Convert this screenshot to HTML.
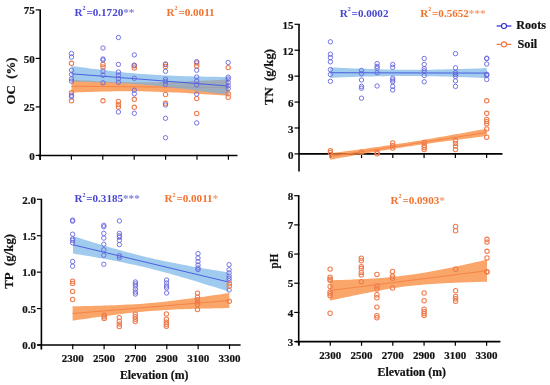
<!DOCTYPE html>
<html><head><meta charset="utf-8"><style>
html,body{margin:0;padding:0;background:#fff;width:550px;height:385px;overflow:hidden}
svg{display:block;will-change:transform}
text{font-family:"Liberation Serif",serif;font-weight:bold}
.k{stroke:#111;stroke-width:0.2}
</style></head><body>
<svg width="550" height="385" viewBox="0 0 550 385">
<rect width="550" height="385" fill="#fff"/>
<line x1="40.20" y1="9.90" x2="40.20" y2="160.00" stroke="#000" stroke-width="1.6"/>
<line x1="35.70" y1="9.90" x2="40.90" y2="9.90" stroke="#000" stroke-width="1.2"/>
<text x="34.70" y="14.10" font-size="11" text-anchor="end" fill="#111" class="k">75</text>
<line x1="35.70" y1="58.40" x2="40.90" y2="58.40" stroke="#000" stroke-width="1.2"/>
<text x="34.70" y="62.60" font-size="11" text-anchor="end" fill="#111" class="k">50</text>
<line x1="35.70" y1="106.90" x2="40.90" y2="106.90" stroke="#000" stroke-width="1.2"/>
<text x="34.70" y="111.10" font-size="11" text-anchor="end" fill="#111" class="k">25</text>
<line x1="35.70" y1="155.40" x2="40.90" y2="155.40" stroke="#000" stroke-width="1.2"/>
<text x="34.70" y="159.60" font-size="11" text-anchor="end" fill="#111" class="k">0</text>
<line x1="38.00" y1="155.50" x2="237.50" y2="155.50" stroke="#000" stroke-width="1.6"/>
<line x1="40.00" y1="154.80" x2="40.00" y2="159.70" stroke="#000" stroke-width="1.2"/>
<line x1="71.40" y1="154.80" x2="71.40" y2="159.70" stroke="#000" stroke-width="1.2"/>
<line x1="102.80" y1="154.80" x2="102.80" y2="159.70" stroke="#000" stroke-width="1.2"/>
<line x1="134.20" y1="154.80" x2="134.20" y2="159.70" stroke="#000" stroke-width="1.2"/>
<line x1="165.60" y1="154.80" x2="165.60" y2="159.70" stroke="#000" stroke-width="1.2"/>
<line x1="197.00" y1="154.80" x2="197.00" y2="159.70" stroke="#000" stroke-width="1.2"/>
<line x1="228.40" y1="154.80" x2="228.40" y2="159.70" stroke="#000" stroke-width="1.2"/>
<line x1="299.00" y1="24.30" x2="299.00" y2="171.50" stroke="#000" stroke-width="1.6"/>
<line x1="294.50" y1="24.30" x2="299.70" y2="24.30" stroke="#000" stroke-width="1.2"/>
<text x="293.50" y="28.90" font-size="11" text-anchor="end" fill="#111" class="k">15</text>
<line x1="294.50" y1="50.22" x2="299.70" y2="50.22" stroke="#000" stroke-width="1.2"/>
<text x="293.50" y="54.82" font-size="11" text-anchor="end" fill="#111" class="k">12</text>
<line x1="294.50" y1="76.14" x2="299.70" y2="76.14" stroke="#000" stroke-width="1.2"/>
<text x="293.50" y="80.74" font-size="11" text-anchor="end" fill="#111" class="k">9</text>
<line x1="294.50" y1="102.06" x2="299.70" y2="102.06" stroke="#000" stroke-width="1.2"/>
<text x="293.50" y="106.66" font-size="11" text-anchor="end" fill="#111" class="k">6</text>
<line x1="294.50" y1="127.98" x2="299.70" y2="127.98" stroke="#000" stroke-width="1.2"/>
<text x="293.50" y="132.58" font-size="11" text-anchor="end" fill="#111" class="k">3</text>
<line x1="294.50" y1="153.90" x2="299.70" y2="153.90" stroke="#000" stroke-width="1.2"/>
<text x="293.50" y="158.50" font-size="11" text-anchor="end" fill="#111" class="k">0</text>
<line x1="299.00" y1="153.90" x2="502.50" y2="153.90" stroke="#000" stroke-width="1.6"/>
<line x1="330.27" y1="153.20" x2="330.27" y2="158.10" stroke="#000" stroke-width="1.2"/>
<line x1="361.54" y1="153.20" x2="361.54" y2="158.10" stroke="#000" stroke-width="1.2"/>
<line x1="392.81" y1="153.20" x2="392.81" y2="158.10" stroke="#000" stroke-width="1.2"/>
<line x1="424.08" y1="153.20" x2="424.08" y2="158.10" stroke="#000" stroke-width="1.2"/>
<line x1="455.35" y1="153.20" x2="455.35" y2="158.10" stroke="#000" stroke-width="1.2"/>
<line x1="486.62" y1="153.20" x2="486.62" y2="158.10" stroke="#000" stroke-width="1.2"/>
<line x1="41.40" y1="199.30" x2="41.40" y2="349.40" stroke="#000" stroke-width="1.6"/>
<line x1="36.90" y1="199.30" x2="42.10" y2="199.30" stroke="#000" stroke-width="1.2"/>
<text x="35.90" y="203.50" font-size="11" text-anchor="end" fill="#111" class="k">2.0</text>
<line x1="36.90" y1="235.72" x2="42.10" y2="235.72" stroke="#000" stroke-width="1.2"/>
<text x="35.90" y="239.92" font-size="11" text-anchor="end" fill="#111" class="k">1.5</text>
<line x1="36.90" y1="272.14" x2="42.10" y2="272.14" stroke="#000" stroke-width="1.2"/>
<text x="35.90" y="276.34" font-size="11" text-anchor="end" fill="#111" class="k">1.0</text>
<line x1="36.90" y1="308.56" x2="42.10" y2="308.56" stroke="#000" stroke-width="1.2"/>
<text x="35.90" y="312.76" font-size="11" text-anchor="end" fill="#111" class="k">0.5</text>
<line x1="36.90" y1="344.98" x2="42.10" y2="344.98" stroke="#000" stroke-width="1.2"/>
<text x="35.90" y="349.18" font-size="11" text-anchor="end" fill="#111" class="k">0.0</text>
<line x1="37.40" y1="345.00" x2="240.60" y2="345.00" stroke="#000" stroke-width="1.6"/>
<line x1="41.40" y1="344.30" x2="41.40" y2="349.20" stroke="#000" stroke-width="1.2"/>
<line x1="72.75" y1="344.30" x2="72.75" y2="349.20" stroke="#000" stroke-width="1.2"/>
<line x1="104.10" y1="344.30" x2="104.10" y2="349.20" stroke="#000" stroke-width="1.2"/>
<line x1="135.45" y1="344.30" x2="135.45" y2="349.20" stroke="#000" stroke-width="1.2"/>
<line x1="166.80" y1="344.30" x2="166.80" y2="349.20" stroke="#000" stroke-width="1.2"/>
<line x1="198.15" y1="344.30" x2="198.15" y2="349.20" stroke="#000" stroke-width="1.2"/>
<line x1="229.50" y1="344.30" x2="229.50" y2="349.20" stroke="#000" stroke-width="1.2"/>
<text x="72.75" y="362.00" font-size="11" text-anchor="middle" fill="#111" class="k">2300</text>
<text x="104.10" y="362.00" font-size="11" text-anchor="middle" fill="#111" class="k">2500</text>
<text x="135.45" y="362.00" font-size="11" text-anchor="middle" fill="#111" class="k">2700</text>
<text x="166.80" y="362.00" font-size="11" text-anchor="middle" fill="#111" class="k">2900</text>
<text x="198.15" y="362.00" font-size="11" text-anchor="middle" fill="#111" class="k">3100</text>
<text x="229.50" y="362.00" font-size="11" text-anchor="middle" fill="#111" class="k">3300</text>
<line x1="298.70" y1="195.70" x2="298.70" y2="345.40" stroke="#000" stroke-width="1.6"/>
<line x1="294.20" y1="195.70" x2="299.40" y2="195.70" stroke="#000" stroke-width="1.2"/>
<text x="293.20" y="199.90" font-size="11" text-anchor="end" fill="#111" class="k">8</text>
<line x1="294.20" y1="224.88" x2="299.40" y2="224.88" stroke="#000" stroke-width="1.2"/>
<text x="293.20" y="229.08" font-size="11" text-anchor="end" fill="#111" class="k">7</text>
<line x1="294.20" y1="254.06" x2="299.40" y2="254.06" stroke="#000" stroke-width="1.2"/>
<text x="293.20" y="258.26" font-size="11" text-anchor="end" fill="#111" class="k">6</text>
<line x1="294.20" y1="283.24" x2="299.40" y2="283.24" stroke="#000" stroke-width="1.2"/>
<text x="293.20" y="287.44" font-size="11" text-anchor="end" fill="#111" class="k">5</text>
<line x1="294.20" y1="312.42" x2="299.40" y2="312.42" stroke="#000" stroke-width="1.2"/>
<text x="293.20" y="316.62" font-size="11" text-anchor="end" fill="#111" class="k">4</text>
<line x1="294.20" y1="341.60" x2="299.40" y2="341.60" stroke="#000" stroke-width="1.2"/>
<text x="293.20" y="345.80" font-size="11" text-anchor="end" fill="#111" class="k">3</text>
<line x1="295.50" y1="341.60" x2="500.40" y2="341.60" stroke="#000" stroke-width="1.6"/>
<line x1="299.00" y1="340.90" x2="299.00" y2="345.80" stroke="#000" stroke-width="1.2"/>
<line x1="330.27" y1="340.90" x2="330.27" y2="345.80" stroke="#000" stroke-width="1.2"/>
<line x1="361.54" y1="340.90" x2="361.54" y2="345.80" stroke="#000" stroke-width="1.2"/>
<line x1="392.81" y1="340.90" x2="392.81" y2="345.80" stroke="#000" stroke-width="1.2"/>
<line x1="424.08" y1="340.90" x2="424.08" y2="345.80" stroke="#000" stroke-width="1.2"/>
<line x1="455.35" y1="340.90" x2="455.35" y2="345.80" stroke="#000" stroke-width="1.2"/>
<line x1="486.62" y1="340.90" x2="486.62" y2="345.80" stroke="#000" stroke-width="1.2"/>
<text x="330.27" y="358.60" font-size="11" text-anchor="middle" fill="#111" class="k">2300</text>
<text x="361.54" y="358.60" font-size="11" text-anchor="middle" fill="#111" class="k">2500</text>
<text x="392.81" y="358.60" font-size="11" text-anchor="middle" fill="#111" class="k">2700</text>
<text x="424.08" y="358.60" font-size="11" text-anchor="middle" fill="#111" class="k">2900</text>
<text x="455.35" y="358.60" font-size="11" text-anchor="middle" fill="#111" class="k">3100</text>
<text x="486.62" y="358.60" font-size="11" text-anchor="middle" fill="#111" class="k">3300</text>
<path d="M71.50,79.70 L75.42,79.94 L79.35,80.17 L83.28,80.40 L87.20,80.62 L91.12,80.83 L95.05,81.02 L98.97,81.21 L102.90,81.39 L106.83,81.55 L110.75,81.70 L114.67,81.84 L118.60,81.96 L122.53,82.06 L126.45,82.14 L130.38,82.21 L134.30,82.26 L138.22,82.29 L142.15,82.30 L146.07,82.30 L150.00,82.27 L153.93,82.23 L157.85,82.17 L161.78,82.10 L165.70,82.01 L169.62,81.91 L173.55,81.80 L177.47,81.68 L181.40,81.55 L185.32,81.40 L189.25,81.25 L193.18,81.09 L197.10,80.92 L201.03,80.75 L204.95,80.57 L208.88,80.39 L212.80,80.20 L216.72,80.00 L220.65,79.81 L224.57,79.60 L228.50,79.40 L228.50,95.80 L224.57,95.53 L220.65,95.25 L216.72,94.99 L212.80,94.72 L208.88,94.46 L204.95,94.21 L201.03,93.96 L197.10,93.72 L193.18,93.48 L189.25,93.25 L185.32,93.03 L181.40,92.81 L177.47,92.61 L173.55,92.42 L169.62,92.24 L165.70,92.07 L161.78,91.91 L157.85,91.77 L153.93,91.64 L150.00,91.53 L146.07,91.43 L142.15,91.36 L138.22,91.30 L134.30,91.26 L130.38,91.24 L126.45,91.24 L122.53,91.25 L118.60,91.28 L114.67,91.33 L110.75,91.40 L106.83,91.48 L102.90,91.57 L98.97,91.68 L95.05,91.80 L91.12,91.92 L87.20,92.06 L83.28,92.21 L79.35,92.37 L75.42,92.53 L71.50,92.70 Z" fill="#f88737" fill-opacity="0.75" stroke="none"/>
<line x1="71.50" y1="86.20" x2="228.50" y2="87.60" stroke="#f5844a" stroke-width="1.0"/>
<path d="M71.50,66.00 L75.42,66.54 L79.35,67.07 L83.28,67.60 L87.20,68.12 L91.12,68.63 L95.05,69.12 L98.97,69.61 L102.90,70.09 L106.83,70.55 L110.75,71.00 L114.67,71.44 L118.60,71.85 L122.53,72.26 L126.45,72.64 L130.38,73.01 L134.30,73.35 L138.22,73.68 L142.15,73.99 L146.07,74.28 L150.00,74.54 L153.93,74.79 L157.85,75.02 L161.78,75.23 L165.70,75.43 L169.62,75.61 L173.55,75.77 L177.47,75.92 L181.40,76.06 L185.32,76.18 L189.25,76.30 L193.18,76.40 L197.10,76.49 L201.03,76.58 L204.95,76.66 L208.88,76.73 L212.80,76.79 L216.72,76.85 L220.65,76.91 L224.57,76.96 L228.50,77.00 L228.50,95.00 L224.57,94.43 L220.65,93.87 L216.72,93.32 L212.80,92.77 L208.88,92.22 L204.95,91.68 L201.03,91.15 L197.10,90.63 L193.18,90.11 L189.25,89.60 L185.32,89.11 L181.40,88.62 L177.47,88.15 L173.55,87.69 L169.62,87.24 L165.70,86.81 L161.78,86.40 L157.85,86.00 L153.93,85.62 L150.00,85.26 L146.07,84.91 L142.15,84.59 L138.22,84.29 L134.30,84.01 L130.38,83.74 L126.45,83.50 L122.53,83.27 L118.60,83.07 L114.67,82.87 L110.75,82.70 L106.83,82.54 L102.90,82.39 L98.97,82.26 L95.05,82.14 L91.12,82.02 L87.20,81.92 L83.28,81.83 L79.35,81.75 L75.42,81.67 L71.50,81.60 Z" fill="#6fb0e5" fill-opacity="0.66" stroke="none"/>
<line x1="71.50" y1="73.80" x2="228.50" y2="86.00" stroke="#4a5fe0" stroke-width="1.0"/>
<path d="M330.20,153.30 L334.11,152.79 L338.02,152.29 L341.94,151.78 L345.85,151.26 L349.76,150.74 L353.68,150.22 L357.59,149.70 L361.50,149.17 L365.41,148.63 L369.32,148.09 L373.24,147.54 L377.15,146.99 L381.06,146.43 L384.97,145.86 L388.89,145.28 L392.80,144.70 L396.71,144.11 L400.62,143.51 L404.54,142.90 L408.45,142.28 L412.36,141.66 L416.27,141.03 L420.19,140.39 L424.10,139.74 L428.01,139.08 L431.92,138.42 L435.84,137.75 L439.75,137.08 L443.66,136.40 L447.57,135.72 L451.49,135.03 L455.40,134.34 L459.31,133.64 L463.23,132.94 L467.14,132.24 L471.05,131.54 L474.96,130.83 L478.88,130.12 L482.79,129.41 L486.70,128.70 L486.70,135.90 L482.79,136.40 L478.88,136.90 L474.96,137.40 L471.05,137.90 L467.14,138.41 L463.23,138.92 L459.31,139.43 L455.40,139.94 L451.49,140.46 L447.57,140.98 L443.66,141.51 L439.75,142.04 L435.84,142.58 L431.92,143.12 L428.01,143.67 L424.10,144.22 L420.19,144.78 L416.27,145.35 L412.36,145.93 L408.45,146.52 L404.54,147.11 L400.62,147.71 L396.71,148.32 L392.80,148.94 L388.89,149.57 L384.97,150.20 L381.06,150.84 L377.15,151.49 L373.24,152.15 L369.32,152.81 L365.41,153.48 L361.50,154.15 L357.59,154.83 L353.68,155.52 L349.76,156.21 L345.85,156.90 L341.94,157.59 L338.02,158.29 L334.11,159.00 L330.20,159.70 Z" fill="#f88737" fill-opacity="0.75" stroke="none"/>
<line x1="330.20" y1="156.50" x2="486.70" y2="132.50" stroke="#f5844a" stroke-width="1.0"/>
<path d="M330.20,67.40 L334.11,67.57 L338.02,67.74 L341.94,67.91 L345.85,68.07 L349.76,68.23 L353.68,68.39 L357.59,68.54 L361.50,68.68 L365.41,68.82 L369.32,68.95 L373.24,69.08 L377.15,69.19 L381.06,69.30 L384.97,69.40 L388.89,69.49 L392.80,69.56 L396.71,69.63 L400.62,69.68 L404.54,69.72 L408.45,69.75 L412.36,69.76 L416.27,69.76 L420.19,69.75 L424.10,69.73 L428.01,69.69 L431.92,69.64 L435.84,69.58 L439.75,69.51 L443.66,69.43 L447.57,69.34 L451.49,69.24 L455.40,69.14 L459.31,69.03 L463.23,68.91 L467.14,68.79 L471.05,68.66 L474.96,68.52 L478.88,68.39 L482.79,68.24 L486.70,68.10 L486.70,78.10 L482.79,77.93 L478.88,77.76 L474.96,77.60 L471.05,77.44 L467.14,77.29 L463.23,77.14 L459.31,77.00 L455.40,76.86 L451.49,76.73 L447.57,76.61 L443.66,76.50 L439.75,76.39 L435.84,76.30 L431.92,76.21 L428.01,76.14 L424.10,76.07 L420.19,76.02 L416.27,75.99 L412.36,75.96 L408.45,75.95 L404.54,75.95 L400.62,75.97 L396.71,76.00 L392.80,76.04 L388.89,76.09 L384.97,76.15 L381.06,76.23 L377.15,76.31 L373.24,76.40 L369.32,76.50 L365.41,76.60 L361.50,76.72 L357.59,76.84 L353.68,76.96 L349.76,77.09 L345.85,77.23 L341.94,77.36 L338.02,77.51 L334.11,77.65 L330.20,77.80 Z" fill="#6fb0e5" fill-opacity="0.66" stroke="none"/>
<line x1="330.20" y1="72.70" x2="486.70" y2="73.10" stroke="#4a5fe0" stroke-width="1.0"/>
<path d="M72.60,306.30 L76.52,306.23 L80.44,306.15 L84.35,306.07 L88.27,305.99 L92.19,305.89 L96.10,305.80 L100.02,305.69 L103.94,305.57 L107.86,305.44 L111.78,305.31 L115.69,305.16 L119.61,304.99 L123.53,304.81 L127.44,304.62 L131.36,304.40 L135.28,304.16 L139.20,303.91 L143.12,303.63 L147.03,303.32 L150.95,303.00 L154.87,302.65 L158.79,302.27 L162.70,301.88 L166.62,301.46 L170.54,301.02 L174.45,300.57 L178.37,300.09 L182.29,299.60 L186.21,299.10 L190.12,298.59 L194.04,298.06 L197.96,297.53 L201.88,296.98 L205.79,296.43 L209.71,295.87 L213.63,295.31 L217.55,294.74 L221.47,294.16 L225.38,293.58 L229.30,293.00 L229.30,308.00 L225.38,308.07 L221.47,308.14 L217.55,308.21 L213.63,308.29 L209.71,308.38 L205.79,308.47 L201.88,308.57 L197.96,308.67 L194.04,308.79 L190.12,308.91 L186.21,309.05 L182.29,309.20 L178.37,309.36 L174.45,309.53 L170.54,309.73 L166.62,309.94 L162.70,310.17 L158.79,310.43 L154.87,310.70 L150.95,311.00 L147.03,311.33 L143.12,311.67 L139.20,312.04 L135.28,312.44 L131.36,312.85 L127.44,313.28 L123.53,313.74 L119.61,314.21 L115.69,314.69 L111.78,315.19 L107.86,315.71 L103.94,316.23 L100.02,316.76 L96.10,317.30 L92.19,317.86 L88.27,318.41 L84.35,318.98 L80.44,319.55 L76.52,320.12 L72.60,320.70 Z" fill="#f88737" fill-opacity="0.75" stroke="none"/>
<line x1="72.60" y1="313.50" x2="229.30" y2="300.50" stroke="#f5844a" stroke-width="1.0"/>
<path d="M73.00,236.10 L76.89,237.32 L80.78,238.53 L84.66,239.74 L88.55,240.94 L92.44,242.13 L96.33,243.31 L100.21,244.48 L104.10,245.63 L107.99,246.78 L111.88,247.91 L115.76,249.02 L119.65,250.12 L123.54,251.19 L127.42,252.25 L131.31,253.28 L135.20,254.29 L139.09,255.27 L142.97,256.23 L146.86,257.17 L150.75,258.08 L154.64,258.96 L158.53,259.82 L162.41,260.65 L166.30,261.47 L170.19,262.26 L174.07,263.03 L177.96,263.78 L181.85,264.52 L185.74,265.24 L189.62,265.94 L193.51,266.64 L197.40,267.32 L201.29,268.00 L205.18,268.66 L209.06,269.32 L212.95,269.97 L216.84,270.61 L220.72,271.24 L224.61,271.87 L228.50,272.50 L228.50,291.50 L224.61,290.27 L220.72,289.04 L216.84,287.81 L212.95,286.59 L209.06,285.38 L205.18,284.18 L201.29,282.98 L197.40,281.80 L193.51,280.62 L189.62,279.46 L185.74,278.30 L181.85,277.16 L177.96,276.04 L174.07,274.93 L170.19,273.84 L166.30,272.77 L162.41,271.73 L158.53,270.70 L154.64,269.70 L150.75,268.72 L146.86,267.77 L142.97,266.85 L139.09,265.95 L135.20,265.07 L131.31,264.22 L127.42,263.39 L123.54,262.59 L119.65,261.80 L115.76,261.04 L111.88,260.29 L107.99,259.56 L104.10,258.85 L100.21,258.14 L96.33,257.45 L92.44,256.77 L88.55,256.10 L84.66,255.44 L80.78,254.79 L76.89,254.14 L73.00,253.50 Z" fill="#6fb0e5" fill-opacity="0.66" stroke="none"/>
<line x1="73.00" y1="244.80" x2="228.50" y2="282.00" stroke="#4a5fe0" stroke-width="1.0"/>
<path d="M330.10,280.30 L334.02,280.18 L337.95,280.06 L341.87,279.93 L345.79,279.79 L349.71,279.64 L353.63,279.48 L357.56,279.31 L361.48,279.13 L365.40,278.93 L369.33,278.71 L373.25,278.48 L377.17,278.22 L381.09,277.94 L385.01,277.63 L388.94,277.29 L392.86,276.92 L396.78,276.51 L400.71,276.07 L404.63,275.59 L408.55,275.08 L412.47,274.53 L416.39,273.94 L420.32,273.32 L424.24,272.67 L428.16,271.98 L432.09,271.27 L436.01,270.54 L439.93,269.79 L443.85,269.01 L447.77,268.22 L451.70,267.41 L455.62,266.59 L459.54,265.76 L463.47,264.92 L467.39,264.07 L471.31,263.21 L475.23,262.34 L479.15,261.46 L483.08,260.58 L487.00,259.70 L487.00,281.70 L483.08,281.81 L479.15,281.92 L475.23,282.03 L471.31,282.15 L467.39,282.28 L463.47,282.42 L459.54,282.57 L455.62,282.73 L451.70,282.90 L447.77,283.08 L443.85,283.28 L439.93,283.49 L436.01,283.73 L432.09,283.99 L428.16,284.27 L424.24,284.57 L420.32,284.91 L416.39,285.28 L412.47,285.68 L408.55,286.12 L404.63,286.60 L400.71,287.11 L396.78,287.66 L392.86,288.24 L388.94,288.86 L385.01,289.51 L381.09,290.19 L377.17,290.90 L373.25,291.63 L369.33,292.39 L365.40,293.16 L361.48,293.95 L357.56,294.76 L353.63,295.58 L349.71,296.41 L345.79,297.25 L341.87,298.10 L337.95,298.96 L334.02,299.83 L330.10,300.70 Z" fill="#f88737" fill-opacity="0.75" stroke="none"/>
<line x1="330.10" y1="290.50" x2="487.00" y2="270.70" stroke="#f5844a" stroke-width="1.0"/>
<circle cx="71.50" cy="63.30" r="2.2" fill="none" stroke="#ee7c4e" stroke-width="1.05"/>
<circle cx="71.50" cy="100.80" r="2.2" fill="none" stroke="#ee7c4e" stroke-width="1.05"/>
<circle cx="71.50" cy="92.80" r="2.2" fill="none" stroke="#ee7c4e" stroke-width="1.05"/>
<circle cx="103.00" cy="64.40" r="2.2" fill="none" stroke="#ee7c4e" stroke-width="1.05"/>
<circle cx="103.00" cy="67.00" r="2.2" fill="none" stroke="#ee7c4e" stroke-width="1.05"/>
<circle cx="103.00" cy="100.80" r="2.2" fill="none" stroke="#ee7c4e" stroke-width="1.05"/>
<circle cx="118.40" cy="101.50" r="2.2" fill="none" stroke="#ee7c4e" stroke-width="1.05"/>
<circle cx="118.40" cy="104.50" r="2.2" fill="none" stroke="#ee7c4e" stroke-width="1.05"/>
<circle cx="118.40" cy="107.00" r="2.2" fill="none" stroke="#ee7c4e" stroke-width="1.05"/>
<circle cx="134.30" cy="65.80" r="2.2" fill="none" stroke="#ee7c4e" stroke-width="1.05"/>
<circle cx="134.30" cy="68.00" r="2.2" fill="none" stroke="#ee7c4e" stroke-width="1.05"/>
<circle cx="134.30" cy="99.30" r="2.2" fill="none" stroke="#ee7c4e" stroke-width="1.05"/>
<circle cx="134.30" cy="107.30" r="2.2" fill="none" stroke="#ee7c4e" stroke-width="1.05"/>
<circle cx="165.50" cy="64.50" r="2.2" fill="none" stroke="#ee7c4e" stroke-width="1.05"/>
<circle cx="165.50" cy="66.50" r="2.2" fill="none" stroke="#ee7c4e" stroke-width="1.05"/>
<circle cx="165.50" cy="94.50" r="2.2" fill="none" stroke="#ee7c4e" stroke-width="1.05"/>
<circle cx="165.50" cy="103.30" r="2.2" fill="none" stroke="#ee7c4e" stroke-width="1.05"/>
<circle cx="196.70" cy="63.00" r="2.2" fill="none" stroke="#ee7c4e" stroke-width="1.05"/>
<circle cx="196.70" cy="66.10" r="2.2" fill="none" stroke="#ee7c4e" stroke-width="1.05"/>
<circle cx="196.70" cy="98.60" r="2.2" fill="none" stroke="#ee7c4e" stroke-width="1.05"/>
<circle cx="196.70" cy="113.50" r="2.2" fill="none" stroke="#ee7c4e" stroke-width="1.05"/>
<circle cx="228.20" cy="67.60" r="2.2" fill="none" stroke="#ee7c4e" stroke-width="1.05"/>
<circle cx="228.20" cy="93.80" r="2.2" fill="none" stroke="#ee7c4e" stroke-width="1.05"/>
<circle cx="228.20" cy="97.20" r="2.2" fill="none" stroke="#ee7c4e" stroke-width="1.05"/>
<circle cx="71.50" cy="53.50" r="2.2" fill="none" stroke="#6666dc" stroke-width="0.9"/>
<circle cx="71.50" cy="57.10" r="2.2" fill="none" stroke="#6666dc" stroke-width="0.9"/>
<circle cx="71.50" cy="70.20" r="2.2" fill="none" stroke="#6666dc" stroke-width="0.9"/>
<circle cx="71.50" cy="74.50" r="2.2" fill="none" stroke="#6666dc" stroke-width="0.9"/>
<circle cx="71.50" cy="78.90" r="2.2" fill="none" stroke="#6666dc" stroke-width="0.9"/>
<circle cx="71.50" cy="81.20" r="2.2" fill="none" stroke="#6666dc" stroke-width="0.9"/>
<circle cx="71.50" cy="95.30" r="2.2" fill="none" stroke="#6666dc" stroke-width="0.9"/>
<circle cx="71.50" cy="96.70" r="2.2" fill="none" stroke="#6666dc" stroke-width="0.9"/>
<circle cx="103.00" cy="48.00" r="2.2" fill="none" stroke="#6666dc" stroke-width="0.9"/>
<circle cx="103.00" cy="59.00" r="2.2" fill="none" stroke="#6666dc" stroke-width="0.9"/>
<circle cx="103.00" cy="60.00" r="2.2" fill="none" stroke="#6666dc" stroke-width="0.9"/>
<circle cx="103.00" cy="71.00" r="2.2" fill="none" stroke="#6666dc" stroke-width="0.9"/>
<circle cx="103.00" cy="75.30" r="2.2" fill="none" stroke="#6666dc" stroke-width="0.9"/>
<circle cx="103.00" cy="82.80" r="2.2" fill="none" stroke="#6666dc" stroke-width="0.9"/>
<circle cx="118.40" cy="37.50" r="2.2" fill="none" stroke="#6666dc" stroke-width="0.9"/>
<circle cx="118.40" cy="64.40" r="2.2" fill="none" stroke="#6666dc" stroke-width="0.9"/>
<circle cx="118.40" cy="72.00" r="2.2" fill="none" stroke="#6666dc" stroke-width="0.9"/>
<circle cx="118.40" cy="75.30" r="2.2" fill="none" stroke="#6666dc" stroke-width="0.9"/>
<circle cx="118.40" cy="78.80" r="2.2" fill="none" stroke="#6666dc" stroke-width="0.9"/>
<circle cx="118.40" cy="82.20" r="2.2" fill="none" stroke="#6666dc" stroke-width="0.9"/>
<circle cx="118.40" cy="112.00" r="2.2" fill="none" stroke="#6666dc" stroke-width="0.9"/>
<circle cx="134.30" cy="54.90" r="2.2" fill="none" stroke="#6666dc" stroke-width="0.9"/>
<circle cx="134.30" cy="65.20" r="2.2" fill="none" stroke="#6666dc" stroke-width="0.9"/>
<circle cx="134.30" cy="78.30" r="2.2" fill="none" stroke="#6666dc" stroke-width="0.9"/>
<circle cx="134.30" cy="90.20" r="2.2" fill="none" stroke="#6666dc" stroke-width="0.9"/>
<circle cx="134.30" cy="93.80" r="2.2" fill="none" stroke="#6666dc" stroke-width="0.9"/>
<circle cx="134.30" cy="113.30" r="2.2" fill="none" stroke="#6666dc" stroke-width="0.9"/>
<circle cx="165.50" cy="64.00" r="2.2" fill="none" stroke="#6666dc" stroke-width="0.9"/>
<circle cx="165.50" cy="71.30" r="2.2" fill="none" stroke="#6666dc" stroke-width="0.9"/>
<circle cx="165.50" cy="79.20" r="2.2" fill="none" stroke="#6666dc" stroke-width="0.9"/>
<circle cx="165.50" cy="81.50" r="2.2" fill="none" stroke="#6666dc" stroke-width="0.9"/>
<circle cx="165.50" cy="84.40" r="2.2" fill="none" stroke="#6666dc" stroke-width="0.9"/>
<circle cx="165.50" cy="105.00" r="2.2" fill="none" stroke="#6666dc" stroke-width="0.9"/>
<circle cx="165.50" cy="118.30" r="2.2" fill="none" stroke="#6666dc" stroke-width="0.9"/>
<circle cx="165.50" cy="137.70" r="2.2" fill="none" stroke="#6666dc" stroke-width="0.9"/>
<circle cx="196.70" cy="61.70" r="2.2" fill="none" stroke="#6666dc" stroke-width="0.9"/>
<circle cx="196.70" cy="70.20" r="2.2" fill="none" stroke="#6666dc" stroke-width="0.9"/>
<circle cx="196.70" cy="77.00" r="2.2" fill="none" stroke="#6666dc" stroke-width="0.9"/>
<circle cx="196.70" cy="81.00" r="2.2" fill="none" stroke="#6666dc" stroke-width="0.9"/>
<circle cx="196.70" cy="85.00" r="2.2" fill="none" stroke="#6666dc" stroke-width="0.9"/>
<circle cx="196.70" cy="94.10" r="2.2" fill="none" stroke="#6666dc" stroke-width="0.9"/>
<circle cx="196.70" cy="122.90" r="2.2" fill="none" stroke="#6666dc" stroke-width="0.9"/>
<circle cx="228.20" cy="62.50" r="2.2" fill="none" stroke="#6666dc" stroke-width="0.9"/>
<circle cx="228.20" cy="77.20" r="2.2" fill="none" stroke="#6666dc" stroke-width="0.9"/>
<circle cx="228.20" cy="79.00" r="2.2" fill="none" stroke="#6666dc" stroke-width="0.9"/>
<circle cx="228.20" cy="82.50" r="2.2" fill="none" stroke="#6666dc" stroke-width="0.9"/>
<circle cx="228.20" cy="85.80" r="2.2" fill="none" stroke="#6666dc" stroke-width="0.9"/>
<circle cx="228.20" cy="88.70" r="2.2" fill="none" stroke="#6666dc" stroke-width="0.9"/>
<circle cx="330.40" cy="41.80" r="2.2" fill="none" stroke="#6666dc" stroke-width="0.9"/>
<circle cx="330.40" cy="54.20" r="2.2" fill="none" stroke="#6666dc" stroke-width="0.9"/>
<circle cx="330.40" cy="57.60" r="2.2" fill="none" stroke="#6666dc" stroke-width="0.9"/>
<circle cx="330.40" cy="61.80" r="2.2" fill="none" stroke="#6666dc" stroke-width="0.9"/>
<circle cx="330.40" cy="69.60" r="2.2" fill="none" stroke="#6666dc" stroke-width="0.9"/>
<circle cx="330.40" cy="74.50" r="2.2" fill="none" stroke="#6666dc" stroke-width="0.9"/>
<circle cx="330.40" cy="81.30" r="2.2" fill="none" stroke="#6666dc" stroke-width="0.9"/>
<circle cx="361.50" cy="70.40" r="2.2" fill="none" stroke="#6666dc" stroke-width="0.9"/>
<circle cx="361.50" cy="73.60" r="2.2" fill="none" stroke="#6666dc" stroke-width="0.9"/>
<circle cx="361.50" cy="80.00" r="2.2" fill="none" stroke="#6666dc" stroke-width="0.9"/>
<circle cx="361.50" cy="86.40" r="2.2" fill="none" stroke="#6666dc" stroke-width="0.9"/>
<circle cx="361.50" cy="88.20" r="2.2" fill="none" stroke="#6666dc" stroke-width="0.9"/>
<circle cx="361.50" cy="98.20" r="2.2" fill="none" stroke="#6666dc" stroke-width="0.9"/>
<circle cx="377.10" cy="63.60" r="2.2" fill="none" stroke="#6666dc" stroke-width="0.9"/>
<circle cx="377.10" cy="66.40" r="2.2" fill="none" stroke="#6666dc" stroke-width="0.9"/>
<circle cx="377.10" cy="68.20" r="2.2" fill="none" stroke="#6666dc" stroke-width="0.9"/>
<circle cx="377.10" cy="72.70" r="2.2" fill="none" stroke="#6666dc" stroke-width="0.9"/>
<circle cx="377.10" cy="86.00" r="2.2" fill="none" stroke="#6666dc" stroke-width="0.9"/>
<circle cx="392.70" cy="64.50" r="2.2" fill="none" stroke="#6666dc" stroke-width="0.9"/>
<circle cx="392.70" cy="67.30" r="2.2" fill="none" stroke="#6666dc" stroke-width="0.9"/>
<circle cx="392.70" cy="78.20" r="2.2" fill="none" stroke="#6666dc" stroke-width="0.9"/>
<circle cx="392.70" cy="80.00" r="2.2" fill="none" stroke="#6666dc" stroke-width="0.9"/>
<circle cx="392.70" cy="81.80" r="2.2" fill="none" stroke="#6666dc" stroke-width="0.9"/>
<circle cx="392.70" cy="86.40" r="2.2" fill="none" stroke="#6666dc" stroke-width="0.9"/>
<circle cx="392.70" cy="90.00" r="2.2" fill="none" stroke="#6666dc" stroke-width="0.9"/>
<circle cx="424.20" cy="58.50" r="2.2" fill="none" stroke="#6666dc" stroke-width="0.9"/>
<circle cx="424.20" cy="64.50" r="2.2" fill="none" stroke="#6666dc" stroke-width="0.9"/>
<circle cx="424.20" cy="68.70" r="2.2" fill="none" stroke="#6666dc" stroke-width="0.9"/>
<circle cx="424.20" cy="70.90" r="2.2" fill="none" stroke="#6666dc" stroke-width="0.9"/>
<circle cx="424.20" cy="75.50" r="2.2" fill="none" stroke="#6666dc" stroke-width="0.9"/>
<circle cx="424.20" cy="81.80" r="2.2" fill="none" stroke="#6666dc" stroke-width="0.9"/>
<circle cx="455.50" cy="53.60" r="2.2" fill="none" stroke="#6666dc" stroke-width="0.9"/>
<circle cx="455.50" cy="67.80" r="2.2" fill="none" stroke="#6666dc" stroke-width="0.9"/>
<circle cx="455.50" cy="72.70" r="2.2" fill="none" stroke="#6666dc" stroke-width="0.9"/>
<circle cx="455.50" cy="74.50" r="2.2" fill="none" stroke="#6666dc" stroke-width="0.9"/>
<circle cx="455.50" cy="76.40" r="2.2" fill="none" stroke="#6666dc" stroke-width="0.9"/>
<circle cx="455.50" cy="80.90" r="2.2" fill="none" stroke="#6666dc" stroke-width="0.9"/>
<circle cx="455.50" cy="86.40" r="2.2" fill="none" stroke="#6666dc" stroke-width="0.9"/>
<circle cx="486.70" cy="58.20" r="2.2" fill="none" stroke="#6666dc" stroke-width="0.9"/>
<circle cx="486.70" cy="58.60" r="2.2" fill="none" stroke="#6666dc" stroke-width="0.9"/>
<circle cx="486.70" cy="64.00" r="2.2" fill="none" stroke="#6666dc" stroke-width="0.9"/>
<circle cx="486.70" cy="74.20" r="2.2" fill="none" stroke="#6666dc" stroke-width="0.9"/>
<circle cx="486.70" cy="74.80" r="2.2" fill="none" stroke="#6666dc" stroke-width="0.9"/>
<circle cx="486.70" cy="75.50" r="2.2" fill="none" stroke="#6666dc" stroke-width="0.9"/>
<circle cx="486.70" cy="79.50" r="2.2" fill="none" stroke="#6666dc" stroke-width="0.9"/>
<circle cx="330.40" cy="150.60" r="2.2" fill="none" stroke="#ee7c4e" stroke-width="1.05"/>
<circle cx="330.40" cy="152.40" r="2.2" fill="none" stroke="#ee7c4e" stroke-width="1.05"/>
<circle cx="361.50" cy="152.20" r="2.2" fill="none" stroke="#ee7c4e" stroke-width="1.05"/>
<circle cx="377.10" cy="152.30" r="2.2" fill="none" stroke="#ee7c4e" stroke-width="1.05"/>
<circle cx="377.10" cy="153.70" r="2.2" fill="none" stroke="#ee7c4e" stroke-width="1.05"/>
<circle cx="392.70" cy="143.00" r="2.2" fill="none" stroke="#ee7c4e" stroke-width="1.05"/>
<circle cx="392.70" cy="145.60" r="2.2" fill="none" stroke="#ee7c4e" stroke-width="1.05"/>
<circle cx="392.70" cy="148.00" r="2.2" fill="none" stroke="#ee7c4e" stroke-width="1.05"/>
<circle cx="424.20" cy="142.40" r="2.2" fill="none" stroke="#ee7c4e" stroke-width="1.05"/>
<circle cx="424.20" cy="145.50" r="2.2" fill="none" stroke="#ee7c4e" stroke-width="1.05"/>
<circle cx="424.20" cy="147.60" r="2.2" fill="none" stroke="#ee7c4e" stroke-width="1.05"/>
<circle cx="424.20" cy="149.60" r="2.2" fill="none" stroke="#ee7c4e" stroke-width="1.05"/>
<circle cx="455.50" cy="140.70" r="2.2" fill="none" stroke="#ee7c4e" stroke-width="1.05"/>
<circle cx="455.50" cy="143.40" r="2.2" fill="none" stroke="#ee7c4e" stroke-width="1.05"/>
<circle cx="455.50" cy="146.10" r="2.2" fill="none" stroke="#ee7c4e" stroke-width="1.05"/>
<circle cx="455.50" cy="149.60" r="2.2" fill="none" stroke="#ee7c4e" stroke-width="1.05"/>
<circle cx="486.70" cy="100.80" r="2.2" fill="none" stroke="#ee7c4e" stroke-width="1.05"/>
<circle cx="486.70" cy="113.30" r="2.2" fill="none" stroke="#ee7c4e" stroke-width="1.05"/>
<circle cx="486.70" cy="119.50" r="2.2" fill="none" stroke="#ee7c4e" stroke-width="1.05"/>
<circle cx="486.70" cy="121.60" r="2.2" fill="none" stroke="#ee7c4e" stroke-width="1.05"/>
<circle cx="486.70" cy="123.70" r="2.2" fill="none" stroke="#ee7c4e" stroke-width="1.05"/>
<circle cx="486.70" cy="128.90" r="2.2" fill="none" stroke="#ee7c4e" stroke-width="1.05"/>
<circle cx="486.70" cy="137.20" r="2.2" fill="none" stroke="#ee7c4e" stroke-width="1.05"/>
<circle cx="72.60" cy="220.10" r="2.2" fill="none" stroke="#6666dc" stroke-width="0.9"/>
<circle cx="72.60" cy="221.20" r="2.2" fill="none" stroke="#6666dc" stroke-width="0.9"/>
<circle cx="72.60" cy="234.20" r="2.2" fill="none" stroke="#6666dc" stroke-width="0.9"/>
<circle cx="72.60" cy="238.90" r="2.2" fill="none" stroke="#6666dc" stroke-width="0.9"/>
<circle cx="72.60" cy="240.40" r="2.2" fill="none" stroke="#6666dc" stroke-width="0.9"/>
<circle cx="72.60" cy="242.80" r="2.2" fill="none" stroke="#6666dc" stroke-width="0.9"/>
<circle cx="72.60" cy="261.50" r="2.2" fill="none" stroke="#6666dc" stroke-width="0.9"/>
<circle cx="72.60" cy="266.20" r="2.2" fill="none" stroke="#6666dc" stroke-width="0.9"/>
<circle cx="103.80" cy="225.30" r="2.2" fill="none" stroke="#6666dc" stroke-width="0.9"/>
<circle cx="103.80" cy="226.80" r="2.2" fill="none" stroke="#6666dc" stroke-width="0.9"/>
<circle cx="103.80" cy="233.40" r="2.2" fill="none" stroke="#6666dc" stroke-width="0.9"/>
<circle cx="103.80" cy="238.10" r="2.2" fill="none" stroke="#6666dc" stroke-width="0.9"/>
<circle cx="103.80" cy="244.30" r="2.2" fill="none" stroke="#6666dc" stroke-width="0.9"/>
<circle cx="103.80" cy="249.80" r="2.2" fill="none" stroke="#6666dc" stroke-width="0.9"/>
<circle cx="103.80" cy="255.20" r="2.2" fill="none" stroke="#6666dc" stroke-width="0.9"/>
<circle cx="103.80" cy="264.30" r="2.2" fill="none" stroke="#6666dc" stroke-width="0.9"/>
<circle cx="119.40" cy="220.90" r="2.2" fill="none" stroke="#6666dc" stroke-width="0.9"/>
<circle cx="119.40" cy="233.40" r="2.2" fill="none" stroke="#6666dc" stroke-width="0.9"/>
<circle cx="119.40" cy="235.70" r="2.2" fill="none" stroke="#6666dc" stroke-width="0.9"/>
<circle cx="119.40" cy="237.30" r="2.2" fill="none" stroke="#6666dc" stroke-width="0.9"/>
<circle cx="119.40" cy="240.40" r="2.2" fill="none" stroke="#6666dc" stroke-width="0.9"/>
<circle cx="119.40" cy="244.60" r="2.2" fill="none" stroke="#6666dc" stroke-width="0.9"/>
<circle cx="119.40" cy="255.70" r="2.2" fill="none" stroke="#6666dc" stroke-width="0.9"/>
<circle cx="119.40" cy="257.60" r="2.2" fill="none" stroke="#6666dc" stroke-width="0.9"/>
<circle cx="135.40" cy="282.00" r="2.2" fill="none" stroke="#6666dc" stroke-width="0.9"/>
<circle cx="135.40" cy="284.00" r="2.2" fill="none" stroke="#6666dc" stroke-width="0.9"/>
<circle cx="135.40" cy="286.00" r="2.2" fill="none" stroke="#6666dc" stroke-width="0.9"/>
<circle cx="135.40" cy="289.00" r="2.2" fill="none" stroke="#6666dc" stroke-width="0.9"/>
<circle cx="135.40" cy="292.00" r="2.2" fill="none" stroke="#6666dc" stroke-width="0.9"/>
<circle cx="135.40" cy="294.00" r="2.2" fill="none" stroke="#6666dc" stroke-width="0.9"/>
<circle cx="166.60" cy="280.00" r="2.2" fill="none" stroke="#6666dc" stroke-width="0.9"/>
<circle cx="166.60" cy="283.00" r="2.2" fill="none" stroke="#6666dc" stroke-width="0.9"/>
<circle cx="166.60" cy="286.00" r="2.2" fill="none" stroke="#6666dc" stroke-width="0.9"/>
<circle cx="166.60" cy="288.00" r="2.2" fill="none" stroke="#6666dc" stroke-width="0.9"/>
<circle cx="166.60" cy="293.00" r="2.2" fill="none" stroke="#6666dc" stroke-width="0.9"/>
<circle cx="198.00" cy="253.60" r="2.2" fill="none" stroke="#6666dc" stroke-width="0.9"/>
<circle cx="198.00" cy="258.00" r="2.2" fill="none" stroke="#6666dc" stroke-width="0.9"/>
<circle cx="198.00" cy="261.60" r="2.2" fill="none" stroke="#6666dc" stroke-width="0.9"/>
<circle cx="198.00" cy="265.00" r="2.2" fill="none" stroke="#6666dc" stroke-width="0.9"/>
<circle cx="198.00" cy="268.00" r="2.2" fill="none" stroke="#6666dc" stroke-width="0.9"/>
<circle cx="198.00" cy="269.60" r="2.2" fill="none" stroke="#6666dc" stroke-width="0.9"/>
<circle cx="229.10" cy="264.70" r="2.2" fill="none" stroke="#6666dc" stroke-width="0.9"/>
<circle cx="229.10" cy="269.80" r="2.2" fill="none" stroke="#6666dc" stroke-width="0.9"/>
<circle cx="229.10" cy="272.90" r="2.2" fill="none" stroke="#6666dc" stroke-width="0.9"/>
<circle cx="229.10" cy="276.00" r="2.2" fill="none" stroke="#6666dc" stroke-width="0.9"/>
<circle cx="229.10" cy="278.40" r="2.2" fill="none" stroke="#6666dc" stroke-width="0.9"/>
<circle cx="229.10" cy="280.70" r="2.2" fill="none" stroke="#6666dc" stroke-width="0.9"/>
<circle cx="229.10" cy="290.00" r="2.2" fill="none" stroke="#6666dc" stroke-width="0.9"/>
<circle cx="72.60" cy="281.20" r="2.2" fill="none" stroke="#ee7c4e" stroke-width="1.05"/>
<circle cx="72.60" cy="283.50" r="2.2" fill="none" stroke="#ee7c4e" stroke-width="1.05"/>
<circle cx="72.60" cy="291.40" r="2.2" fill="none" stroke="#ee7c4e" stroke-width="1.05"/>
<circle cx="72.60" cy="299.50" r="2.2" fill="none" stroke="#ee7c4e" stroke-width="1.05"/>
<circle cx="104.20" cy="315.10" r="2.2" fill="none" stroke="#ee7c4e" stroke-width="1.05"/>
<circle cx="104.20" cy="316.70" r="2.2" fill="none" stroke="#ee7c4e" stroke-width="1.05"/>
<circle cx="104.20" cy="318.40" r="2.2" fill="none" stroke="#ee7c4e" stroke-width="1.05"/>
<circle cx="119.30" cy="317.60" r="2.2" fill="none" stroke="#ee7c4e" stroke-width="1.05"/>
<circle cx="119.30" cy="321.20" r="2.2" fill="none" stroke="#ee7c4e" stroke-width="1.05"/>
<circle cx="119.30" cy="324.10" r="2.2" fill="none" stroke="#ee7c4e" stroke-width="1.05"/>
<circle cx="119.30" cy="326.60" r="2.2" fill="none" stroke="#ee7c4e" stroke-width="1.05"/>
<circle cx="135.30" cy="314.30" r="2.2" fill="none" stroke="#ee7c4e" stroke-width="1.05"/>
<circle cx="135.30" cy="316.70" r="2.2" fill="none" stroke="#ee7c4e" stroke-width="1.05"/>
<circle cx="135.30" cy="319.20" r="2.2" fill="none" stroke="#ee7c4e" stroke-width="1.05"/>
<circle cx="135.30" cy="321.60" r="2.2" fill="none" stroke="#ee7c4e" stroke-width="1.05"/>
<circle cx="166.40" cy="313.90" r="2.2" fill="none" stroke="#ee7c4e" stroke-width="1.05"/>
<circle cx="166.40" cy="319.30" r="2.2" fill="none" stroke="#ee7c4e" stroke-width="1.05"/>
<circle cx="166.40" cy="322.20" r="2.2" fill="none" stroke="#ee7c4e" stroke-width="1.05"/>
<circle cx="166.40" cy="324.20" r="2.2" fill="none" stroke="#ee7c4e" stroke-width="1.05"/>
<circle cx="166.40" cy="326.20" r="2.2" fill="none" stroke="#ee7c4e" stroke-width="1.05"/>
<circle cx="197.50" cy="293.10" r="2.2" fill="none" stroke="#ee7c4e" stroke-width="1.05"/>
<circle cx="197.50" cy="297.20" r="2.2" fill="none" stroke="#ee7c4e" stroke-width="1.05"/>
<circle cx="197.50" cy="299.60" r="2.2" fill="none" stroke="#ee7c4e" stroke-width="1.05"/>
<circle cx="197.50" cy="302.10" r="2.2" fill="none" stroke="#ee7c4e" stroke-width="1.05"/>
<circle cx="197.50" cy="304.50" r="2.2" fill="none" stroke="#ee7c4e" stroke-width="1.05"/>
<circle cx="197.50" cy="309.50" r="2.2" fill="none" stroke="#ee7c4e" stroke-width="1.05"/>
<circle cx="229.30" cy="283.80" r="2.2" fill="none" stroke="#ee7c4e" stroke-width="1.05"/>
<circle cx="229.30" cy="286.20" r="2.2" fill="none" stroke="#ee7c4e" stroke-width="1.05"/>
<circle cx="229.30" cy="301.30" r="2.2" fill="none" stroke="#ee7c4e" stroke-width="1.05"/>
<circle cx="330.10" cy="269.10" r="2.2" fill="none" stroke="#ee7c4e" stroke-width="1.05"/>
<circle cx="330.10" cy="277.30" r="2.2" fill="none" stroke="#ee7c4e" stroke-width="1.05"/>
<circle cx="330.10" cy="279.20" r="2.2" fill="none" stroke="#ee7c4e" stroke-width="1.05"/>
<circle cx="330.10" cy="280.20" r="2.2" fill="none" stroke="#ee7c4e" stroke-width="1.05"/>
<circle cx="330.10" cy="286.60" r="2.2" fill="none" stroke="#ee7c4e" stroke-width="1.05"/>
<circle cx="330.10" cy="291.90" r="2.2" fill="none" stroke="#ee7c4e" stroke-width="1.05"/>
<circle cx="330.10" cy="293.80" r="2.2" fill="none" stroke="#ee7c4e" stroke-width="1.05"/>
<circle cx="330.10" cy="295.80" r="2.2" fill="none" stroke="#ee7c4e" stroke-width="1.05"/>
<circle cx="330.10" cy="313.30" r="2.2" fill="none" stroke="#ee7c4e" stroke-width="1.05"/>
<circle cx="361.30" cy="258.20" r="2.2" fill="none" stroke="#ee7c4e" stroke-width="1.05"/>
<circle cx="361.30" cy="260.70" r="2.2" fill="none" stroke="#ee7c4e" stroke-width="1.05"/>
<circle cx="361.30" cy="266.60" r="2.2" fill="none" stroke="#ee7c4e" stroke-width="1.05"/>
<circle cx="361.30" cy="268.50" r="2.2" fill="none" stroke="#ee7c4e" stroke-width="1.05"/>
<circle cx="361.30" cy="272.40" r="2.2" fill="none" stroke="#ee7c4e" stroke-width="1.05"/>
<circle cx="361.30" cy="274.90" r="2.2" fill="none" stroke="#ee7c4e" stroke-width="1.05"/>
<circle cx="361.30" cy="281.60" r="2.2" fill="none" stroke="#ee7c4e" stroke-width="1.05"/>
<circle cx="376.90" cy="274.40" r="2.2" fill="none" stroke="#ee7c4e" stroke-width="1.05"/>
<circle cx="376.90" cy="286.00" r="2.2" fill="none" stroke="#ee7c4e" stroke-width="1.05"/>
<circle cx="376.90" cy="289.00" r="2.2" fill="none" stroke="#ee7c4e" stroke-width="1.05"/>
<circle cx="376.90" cy="294.80" r="2.2" fill="none" stroke="#ee7c4e" stroke-width="1.05"/>
<circle cx="376.90" cy="297.70" r="2.2" fill="none" stroke="#ee7c4e" stroke-width="1.05"/>
<circle cx="376.90" cy="307.10" r="2.2" fill="none" stroke="#ee7c4e" stroke-width="1.05"/>
<circle cx="376.90" cy="315.80" r="2.2" fill="none" stroke="#ee7c4e" stroke-width="1.05"/>
<circle cx="376.90" cy="317.80" r="2.2" fill="none" stroke="#ee7c4e" stroke-width="1.05"/>
<circle cx="392.50" cy="271.40" r="2.2" fill="none" stroke="#ee7c4e" stroke-width="1.05"/>
<circle cx="392.50" cy="276.30" r="2.2" fill="none" stroke="#ee7c4e" stroke-width="1.05"/>
<circle cx="392.50" cy="278.20" r="2.2" fill="none" stroke="#ee7c4e" stroke-width="1.05"/>
<circle cx="392.50" cy="288.00" r="2.2" fill="none" stroke="#ee7c4e" stroke-width="1.05"/>
<circle cx="424.10" cy="293.00" r="2.2" fill="none" stroke="#ee7c4e" stroke-width="1.05"/>
<circle cx="424.10" cy="300.70" r="2.2" fill="none" stroke="#ee7c4e" stroke-width="1.05"/>
<circle cx="424.10" cy="309.30" r="2.2" fill="none" stroke="#ee7c4e" stroke-width="1.05"/>
<circle cx="424.10" cy="311.60" r="2.2" fill="none" stroke="#ee7c4e" stroke-width="1.05"/>
<circle cx="424.10" cy="313.60" r="2.2" fill="none" stroke="#ee7c4e" stroke-width="1.05"/>
<circle cx="424.10" cy="315.60" r="2.2" fill="none" stroke="#ee7c4e" stroke-width="1.05"/>
<circle cx="455.60" cy="226.40" r="2.2" fill="none" stroke="#ee7c4e" stroke-width="1.05"/>
<circle cx="455.60" cy="230.70" r="2.2" fill="none" stroke="#ee7c4e" stroke-width="1.05"/>
<circle cx="455.60" cy="269.30" r="2.2" fill="none" stroke="#ee7c4e" stroke-width="1.05"/>
<circle cx="455.60" cy="290.70" r="2.2" fill="none" stroke="#ee7c4e" stroke-width="1.05"/>
<circle cx="455.60" cy="296.40" r="2.2" fill="none" stroke="#ee7c4e" stroke-width="1.05"/>
<circle cx="455.60" cy="298.70" r="2.2" fill="none" stroke="#ee7c4e" stroke-width="1.05"/>
<circle cx="455.60" cy="301.30" r="2.2" fill="none" stroke="#ee7c4e" stroke-width="1.05"/>
<circle cx="487.00" cy="239.30" r="2.2" fill="none" stroke="#ee7c4e" stroke-width="1.05"/>
<circle cx="487.00" cy="242.10" r="2.2" fill="none" stroke="#ee7c4e" stroke-width="1.05"/>
<circle cx="487.00" cy="251.30" r="2.2" fill="none" stroke="#ee7c4e" stroke-width="1.05"/>
<circle cx="487.00" cy="257.90" r="2.2" fill="none" stroke="#ee7c4e" stroke-width="1.05"/>
<circle cx="487.00" cy="271.60" r="2.2" fill="none" stroke="#ee7c4e" stroke-width="1.05"/>
<circle cx="487.00" cy="272.10" r="2.2" fill="none" stroke="#ee7c4e" stroke-width="1.05"/>
<text x="74.60" y="15.70" font-size="11.1" fill="#4646d2">R<tspan font-size="6" dy="-5.6">2</tspan><tspan dy="5.6" dx="0.8">=0.1720</tspan><tspan fill-opacity="0.7">**</tspan></text>
<text x="166.60" y="15.70" font-size="11.1" fill="#f0722f">R<tspan font-size="6" dy="-5.6">2</tspan><tspan dy="5.6" dx="0.8">=0.0011</tspan></text>
<text x="339.80" y="16.60" font-size="11.1" fill="#4646d2">R<tspan font-size="6" dy="-5.6">2</tspan><tspan dy="5.6" dx="0.8">=0.0002</tspan></text>
<text x="420.20" y="16.60" font-size="11.1" fill="#f0722f">R<tspan font-size="6" dy="-5.6">2</tspan><tspan dy="5.6" dx="0.8">=0.5652</tspan><tspan fill-opacity="0.7">***</tspan></text>
<text x="74.40" y="202.20" font-size="11.1" fill="#4646d2">R<tspan font-size="6" dy="-5.6">2</tspan><tspan dy="5.6" dx="0.8">=0.3185</tspan><tspan fill-opacity="0.7">***</tspan></text>
<text x="164.60" y="202.20" font-size="11.1" fill="#f0722f">R<tspan font-size="6" dy="-5.6">2</tspan><tspan dy="5.6" dx="0.8">=0.0011</tspan><tspan fill-opacity="0.7">*</tspan></text>
<text x="390.60" y="203.50" font-size="11.1" fill="#f0722f">R<tspan font-size="6" dy="-5.6">2</tspan><tspan dy="5.6" dx="0.8">=0.0903</tspan><tspan fill-opacity="0.7">*</tspan></text>
<text class="k" x="0" y="0" font-size="12.8" text-anchor="middle" transform="translate(14.60,81.00) rotate(-90) scale(1.0,1)" fill="#111">OC&#160;&#160;(%)</text>
<text class="k" x="0" y="0" font-size="12.8" text-anchor="middle" transform="translate(272.90,77.00) rotate(-90) scale(1.0,1)" fill="#111">TN&#160;&#160;(g/kg)</text>
<text class="k" x="0" y="0" font-size="12.8" text-anchor="middle" transform="translate(13.40,261.30) rotate(-90) scale(1.0,1)" fill="#111">TP&#160;&#160;(g/kg)</text>
<text class="k" x="0" y="0" font-size="12.8" text-anchor="middle" transform="translate(278.00,261.00) rotate(-90) scale(0.87,1)" fill="#111">pH</text>
<text x="154.20" y="379.30" font-size="11.8" text-anchor="middle" fill="#111" class="k">Elevation (m)</text>
<text x="411.80" y="376.30" font-size="11.8" text-anchor="middle" fill="#111" class="k">Elevation (m)</text>
<line x1="496.60" y1="26.00" x2="511.40" y2="26.00" stroke="#2a2ad0" stroke-width="1.2"/>
<circle cx="504" cy="26" r="2.5" fill="#fff" stroke="#2a2ad0" stroke-width="1.1"/>
<line x1="496.60" y1="44.40" x2="511.40" y2="44.40" stroke="#f0763c" stroke-width="1.2"/>
<circle cx="504" cy="44.4" r="2.5" fill="#fff" stroke="#f0763c" stroke-width="1.1"/>
<text x="516.20" y="29.20" font-size="12.2" text-anchor="start" fill="#111" class="k">Roots</text>
<text x="517.60" y="47.50" font-size="12.2" text-anchor="start" fill="#111" class="k">Soil</text>
</svg>
</body></html>
